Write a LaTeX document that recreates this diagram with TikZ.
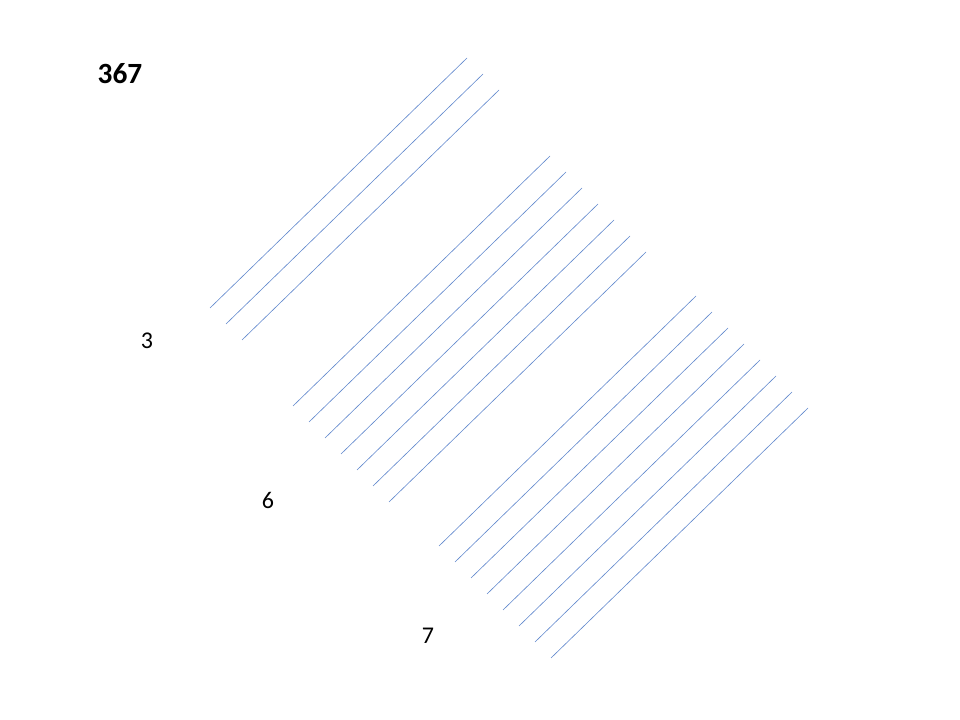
\documentclass[tikz,border=0pt]{standalone}
\usepackage{fontspec}
\setmainfont{Carlito}
\definecolor{hatch}{HTML}{4472C4}
\begin{document}
\begin{tikzpicture}[x=0.75pt,y=-0.75pt,
  hline/.style={draw=hatch!85,line width=0.45pt},
  lbl/.style={inner sep=0pt,font=\fontsize{18}{21}\selectfont},
  ttl/.style={inner sep=0pt,font=\fontsize{22}{26}\selectfont\bfseries}]
\useasboundingbox[fill=white] (0,0) rectangle (960,720);
\node[ttl] (title) at (120,74) {367};
\node[lbl] (l3) at (147,341) {3};
\node[lbl] (l6) at (268,500) {6};
\node[lbl] (l7) at (428,636) {7};
\foreach \i in {0,...,2}{
  \coordinate (a\i) at ({210+16*\i},{308+16*\i});
  \coordinate (b\i) at ({467+16*\i},{58+16*\i});
  \draw[hline] (a\i) -- (b\i);
}
\foreach \i in {0,...,6}{
  \coordinate (c\i) at ({293+16*\i},{406+16*\i});
  \coordinate (d\i) at ({550+16*\i},{156+16*\i});
  \draw[hline] (c\i) -- (d\i);
}
\foreach \i in {0,...,7}{
  \coordinate (e\i) at ({439+16*\i},{546+16*\i});
  \coordinate (f\i) at ({696+16*\i},{296+16*\i});
  \draw[hline] (e\i) -- (f\i);
}
\end{tikzpicture}
\end{document}
